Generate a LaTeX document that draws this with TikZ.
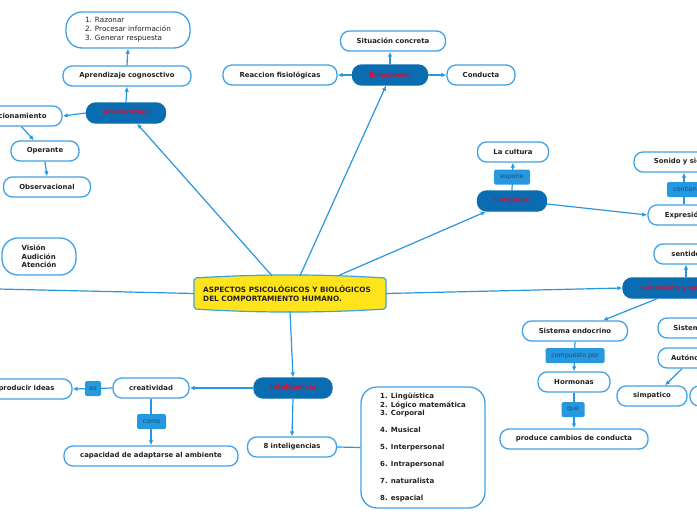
\documentclass[tikz,border=0pt]{standalone}
\usepackage{fontspec}
\setmainfont{DejaVu Sans}
\usetikzlibrary{arrows.meta,calc}
\definecolor{ln}{HTML}{2A96DE}
\definecolor{bd}{HTML}{3FA2E6}
\definecolor{dk}{HTML}{0B6DB1}
\definecolor{dkt}{HTML}{C8163F}
\definecolor{lb}{HTML}{2598E0}
\definecolor{lbt}{HTML}{1A4A75}
\definecolor{yl}{HTML}{FFE41C}
\definecolor{tx}{HTML}{222222}
\begin{document}
\begin{tikzpicture}[x=1pt,y=-1pt,
 box/.style={draw=bd, line width=1.3pt, fill=white, rounded corners=9pt, minimum height=20pt, inner sep=0pt, font=\bfseries\fontsize{6.9}{8}\selectfont, text=tx},
 dark/.style={box, fill=dk, draw=dk, text=dkt},
 lab/.style={fill=lb, rounded corners=1.5pt, minimum height=15pt, inner sep=0pt, font=\fontsize{6.3}{7}\selectfont, text=lbt},
 conn/.style={draw=ln, line width=1.2pt, -{Latex[length=5pt,width=4.5pt]}},
 plain/.style={draw=ln, line width=1.2pt}]
\useasboundingbox (0,0) rectangle (697,520);
\clip (0,0) rectangle (697,520);

% central node
\node[minimum width=192pt, minimum height=35pt, inner sep=0pt] (main) at (290,293.5) {};
\draw[fill=yl, draw=bd, line width=1.2pt, rounded corners=2pt]
  (194,278) .. controls (260,274) and (320,274) .. (386,278) -- (386,309)
  .. controls (320,313) and (260,313) .. (194,309) -- cycle;
\node[anchor=west, font=\bfseries\fontsize{7.3}{9}\selectfont, align=left, text=tx, inner sep=0pt] (maintext) at (203,293.5)
  {ASPECTOS PSICOLÓGICOS Y BIOLÓGICOS\\DEL COMPORTAMIENTO HUMANO.};

% Aprendizaje branch
\node[box, rounded corners=16pt, minimum width=124pt, minimum height=36pt, font=\fontsize{7.2}{9}\selectfont, align=left] (raz) at (128,30)
  {1. Razonar\\2. Procesar información\\3. Generar respuesta};
\node[box, minimum width=128pt] (cog) at (127,76) {Aprendizaje cognosctivo};
\node[dark, minimum width=79pt] (apr) at (126,113) {Aprendizaje};
\node[box, minimum width=101pt] (cond) at (11.5,116) {Condicionamiento};
\node[box, minimum width=68pt] (ope) at (45,151) {Operante};
\node[box, minimum width=87pt] (obs) at (47,187) {Observacional};

% Emociones branch
\node[box, minimum width=105pt] (sit) at (393,41) {Situación concreta};
\node[dark, minimum width=75pt] (emo) at (390,75) {Emociones};
\node[box, minimum width=114pt] (rea) at (280,75) {Reaccion fisiológicas};
\node[box, minimum width=68pt] (con) at (481,75) {Conducta};

% Lenguaje branch
\node[box, minimum width=71pt] (cul) at (513,152) {La cultura};
\node[dark, minimum width=69pt] (len) at (512,201) {Lenguaje};
\node[box, minimum width=72pt] (exp) at (684,215) {Expresión};
\node[box, minimum width=118pt] (son) at (693,162) {Sonido y significado};

% Sensacion branch
\node[box, minimum width=68pt] (sen) at (688,254) {sentidos};
\node[dark, minimum width=126pt] (sp) at (686,288) {Sensación y percepción};
\node[box, minimum width=105pt] (end) at (575,331) {Sistema endocrino};
\node[box, minimum width=72pt] (hor) at (574,382) {Hormonas};
\node[box, minimum width=148pt] (pcc) at (574,439) {produce cambios de conducta};
\node[box, minimum width=98pt] (sis) at (707,328) {Sistema nervioso};
\node[box, minimum width=66pt] (aut) at (691,358) {Autónomo};
\node[box, minimum width=70pt] (simp) at (652,396) {simpatico};
\node[box, minimum width=84pt] (para) at (732,396) {parasimpatico};

% left
\node[box, rounded corners=16pt, minimum width=74pt, minimum height=37pt, align=left, font=\bfseries\fontsize{7}{8.5}\selectfont] (vis) at (39,256.5)
  {Visión\\Audición\\Atención};
\coordinate (leftend) at (-2,289);

% Inteligencia branch
\node[dark, minimum width=78pt] (int) at (293,388) {Inteligencia};
\node[box, minimum width=76pt] (cre) at (151,388) {creatividad};
\node[box, minimum width=91pt] (pro) at (26.5,389) {producir ideas};
\node[box, minimum width=174pt] (cap) at (151,456) {capacidad de adaptarse al ambiente};
\node[box, minimum width=89pt] (ocho) at (292,447) {8 inteligencias};
\node[box, rounded corners=16pt, minimum width=124pt, minimum height=121pt, align=left, font=\bfseries\fontsize{7}{8.5}\selectfont] (list) at (423,447.5)
  {1. Lingüística\\2. Lógico matemática\\3. Corporal\\[8.5pt]4. Musical\\[8.5pt]5. Interpersonal\\[8.5pt]6. Intrapersonal\\[8.5pt]7. naturalista\\[8.5pt]8. espacial};

% connectors from main
\draw[conn] ($(main.north)+(-18,0)$) -- ($(apr.south)+(11,0)$);
\draw[conn] ($(main.north)+(10,0)$) -- ($(emo.south)+(-4,0)$);
\draw[conn] ($(main.north)+(48,0)$) -- ($(len.south west)+(9,0)$);
\draw[conn] (main.east) -- (sp.west);
\draw[conn] (main.south) -- (int.north);
\draw[plain] (main.west) -- (leftend);

% Aprendizaje
\draw[conn] (apr.north) -- (cog.south);
\draw[conn] (cog.north) -- (raz.south);
\draw[conn] (apr.west) -- (cond.east);
\draw[conn] ($(cond.south)+(10,0)$) -- ($(ope.north)+(-11,0)$);
\draw[conn] (ope.south) -- (obs.north);

% Emociones
\draw[conn] (emo.north) -- (emo.north |- sit.south);
\draw[conn] (emo.west) -- (rea.east);
\draw[conn] (emo.east) -- (con.west);

% Lenguaje
\draw[conn] (len.north) -- (cul.south);
\node[lab, minimum width=36pt] (expone) at (512,177) {expone};
\draw[conn] ($(len.east)+(0,3)$) -- (exp.west);
\draw[conn] (exp.north) -- (exp.north |- son.south);
\node[lab, minimum width=40pt] (contiene) at (687,189.5) {contiene};

% Sensacion
\draw[conn] (sp.north) -- (sp.north |- sen.south);
\draw[conn] ($(sp.south west)+(35,0)$) -- ($(end.north)+(28,0)$);
\draw[conn] (end.south) -- (hor.north);
\node[lab, minimum width=59pt] (comp) at (575,355.5) {compuesto por};
\draw[conn] (hor.south) -- (hor.south |- pcc.north);
\node[lab, minimum width=23pt] (que) at (573,409.5) {que};
\draw[conn] ($(aut.south)+(-9,0)$) -- ($(simp.north)+(13,0)$);

% Inteligencia
\draw[conn] (int.west) -- (cre.east);
\draw[conn] (cre.west) -- (pro.east);
\node[lab, minimum width=16pt] (es) at (93,388.5) {es};
\draw[conn] (cre.south) -- (cap.north);
\node[lab, minimum width=29pt] (como) at (151.5,421.5) {como};
\draw[conn] (int.south) -- (ocho.north);
\draw[plain] (ocho.east) -- (list.west);
\end{tikzpicture}
\end{document}
